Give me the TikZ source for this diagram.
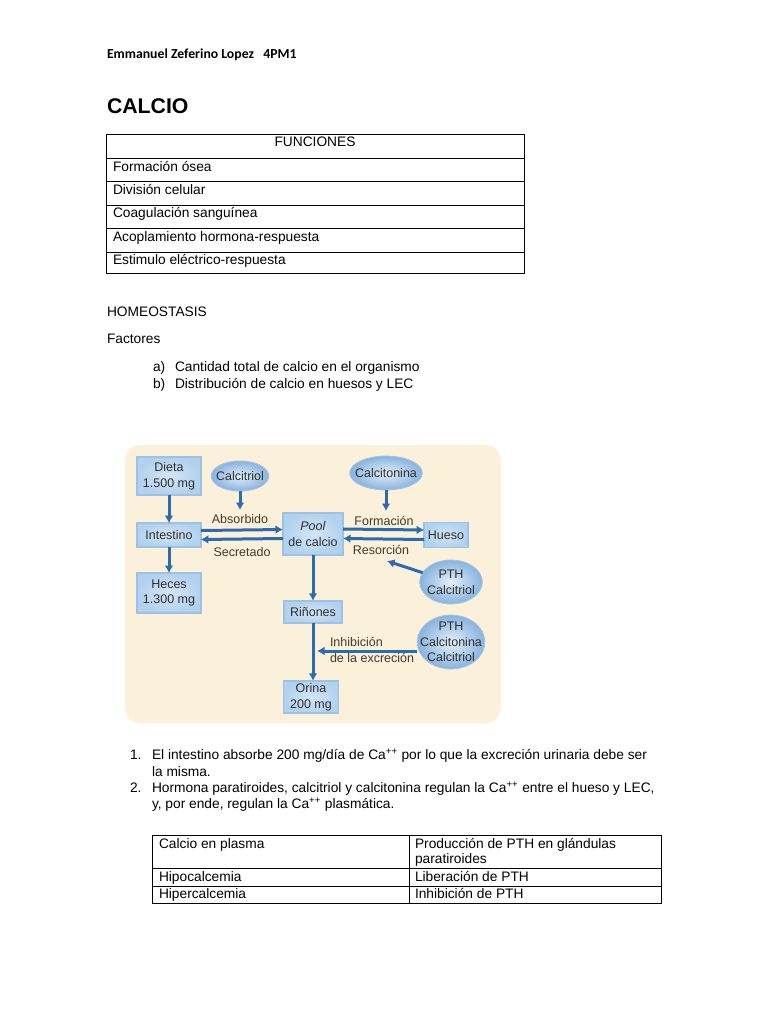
\documentclass[tikz,border=0pt]{standalone}
\usepackage{fontspec}
\setmainfont{Liberation Sans}
\newfontfamily\headfont{Carlito}
\usepackage{xcolor}
\usepackage{tikz}
\usetikzlibrary{arrows.meta, positioning, shapes.geometric, calc}

\definecolor{cream}{HTML}{FBF1DA}
\definecolor{boxfill}{HTML}{B2D1EE}
\definecolor{boxcore}{HTML}{D3E5F6}
\definecolor{boxline}{HTML}{9CC2E6}
\definecolor{ovalcore}{HTML}{E4EFFA}
\definecolor{ovalrim}{HTML}{88B3DE}
\definecolor{flowblue}{HTML}{2C6AB1}
\definecolor{inktext}{HTML}{2F2F2F}
\definecolor{labeltext}{HTML}{45382C}

\begin{document}
\begin{tikzpicture}[
    x=0.8pt, y=-0.8pt,
    every node/.style={inner sep=0pt, outer sep=0pt},
    body/.style={font=\fontsize{11}{13}\selectfont, anchor=base west},
    tabline/.style={line width=0.7pt},
    box/.style={rectangle, draw=boxline, line width=1.4pt, inner color=boxcore, outer color=boxfill, align=center, text=inktext, font=\fontsize{10}{12.5}\selectfont},
    oval/.style={ellipse, draw=ovalrim!80!white, line width=0.8pt, inner color=ovalcore, outer color=ovalrim, label={[ovaltext]center:#1}},
    ovaltext/.style={align=center, text=inktext, font=\fontsize{10}{12.5}\selectfont},
    tag/.style={text=labeltext, font=\fontsize{10}{13.5}\selectfont},
    flow/.style={-{Latex[length=6pt, width=7pt]}, line width=2.4pt, draw=flowblue}
]
\fill[white] (0,0) rectangle (768,1024);
\useasboundingbox (0,0) rectangle (768,1024);

\node[anchor=base west, font=\headfont\bfseries\fontsize{11}{13}\selectfont] (autor) at (107,59) {Emmanuel Zeferino Lopez\ \ \ 4PM1};
\node[anchor=base west, font=\bfseries\fontsize{17}{20}\selectfont] (titulo) at (107,114) {CALCIO};

\draw[tabline] (106,134) rectangle (524,273);
\foreach \y in {158,181,205,228,252}
    \draw[tabline] (106,\y) -- (524,\y);
\node[body, anchor=base] (funciones) at (315,147) {FUNCIONES};
\node[body] (osea) at (113,171.5) {Formación ósea};
\node[body] (division) at (113,194.5) {División celular};
\node[body] (coagulacion) at (113,218) {Coagulación sanguínea};
\node[body] (acoplamiento) at (113,241.5) {Acoplamiento hormona-respuesta};
\node[body] (estimulo) at (113,265) {Estimulo eléctrico-respuesta};

\node[body] (homeostasis) at (107,316) {HOMEOSTASIS};
\node[body] (factores) at (107,343.3) {Factores};
\node[body] (ma) at (153,371.7) {a)};
\node[body] (fa) at (175,371.7) {Cantidad total de calcio en el organismo};
\node[body] (mb) at (153,388.3) {b)};
\node[body] (fb) at (175,388.3) {Distribución de calcio en huesos y LEC};

\fill[cream, rounded corners=12pt] (125,445) rectangle (501,723);

\node[box, minimum width=51pt, minimum height=30pt] (dieta) at (169,476) {Dieta\\1.500 mg};
\node[box, minimum width=51pt, minimum height=19pt] (intestino) at (169,535) {Intestino};
\node[box, minimum width=51pt, minimum height=32pt] (heces) at (169,593) {Heces\\1.300 mg};
\node[box, minimum width=48pt, minimum height=34pt] (pool) at (313,534) {\textit{Pool}\\de calcio};
\node[box, minimum width=35pt, minimum height=20pt] (hueso) at (446,535) {Hueso};
\node[box, minimum width=46pt, minimum height=18pt] (rinones) at (313,612) {Riñones};
\node[box, minimum width=44pt, minimum height=26pt] (orina) at (311,697) {Orina\\200 mg};

\node[oval={Calcitriol}, minimum width=46pt, minimum height=24pt] (calcitriol) at (240,476) {};
\node[oval={Calcitonina}, minimum width=58pt, minimum height=27pt] (calcitonina) at (386,473) {};
\node[oval={PTH\\Calcitriol}, minimum width=50pt, minimum height=35pt] (ptha) at (451,582) {};
\node[oval={PTH\\Calcitonina\\Calcitriol}, minimum width=54pt, minimum height=43pt] (pthb) at (451,642) {};

\coordinate (abstip) at (240,510);
\coordinate (fortip) at (386,511);
\coordinate (restip) at (387,561);
\coordinate (inhtip) at (317,651);

\node[tag] (absorbido) at (240,519) {Absorbido};
\node[tag] (secretado) at (242,552) {Secretado};
\node[tag] (formacion) at (384,521) {Formación};
\node[tag] (resorcion) at (381,550) {Resorción};
\node[tag, anchor=west, align=left] (inhibicion) at (330,650) {Inhibición\\de la excreción};

\draw[flow] (dieta) -- (intestino);
\draw[flow] (intestino) -- (heces);
\draw[flow] ($(intestino.east)+(0,-4.5)$) -- ($(pool.west)+(0,-4.5)$);
\draw[flow] ($(pool.west)+(0,4.5)$) -- ($(intestino.east)+(0,4.5)$);
\draw[flow] ($(pool.east)+(0,-5)$) -- ($(hueso.west)+(0,-5)$);
\draw[flow] ($(hueso.west)+(0,4.5)$) -- ($(pool.east)+(0,4.5)$);
\draw[flow] (calcitriol) -- (abstip);
\draw[flow] (calcitonina) -- (fortip);
\draw[flow] (ptha) -- (restip);
\draw[flow] (pool) -- (rinones);
\draw[flow] (rinones.south) -- (rinones.south |- orina.north);
\draw[flow] (pthb.west |- inhtip) -- (inhtip);

\node[body] (n1) at (130,759) {1.};
\node[body] (l1) at (152,759) {El intestino absorbe 200 mg/día de Ca\textsuperscript{++} por lo que la excreción urinaria debe ser};
\node[body] (l2) at (152,776) {la misma.};
\node[body] (n2) at (130,792) {2.};
\node[body] (l3) at (152,792) {Hormona paratiroides, calcitriol y calcitonina regulan la Ca\textsuperscript{++} entre el hueso y LEC,};
\node[body] (l4) at (152,808) {y, por ende, regulan la Ca\textsuperscript{++} plasmática.};

\draw[tabline] (152,835) rectangle (661,903);
\draw[tabline] (152,868) -- (661,868);
\draw[tabline] (152,886) -- (661,886);
\draw[tabline] (409,835) -- (409,903);
\node[body] (plasma) at (159,848.6) {Calcio en plasma};
\node[body] (prod) at (415,848.6) {Producción de PTH en glándulas};
\node[body] (paratiroides) at (415,863) {paratiroides};
\node[body] (hipo) at (159,881) {Hipocalcemia};
\node[body] (liberacion) at (415,881) {Liberación de PTH};
\node[body] (hiper) at (159,898.5) {Hipercalcemia};
\node[body] (inhibpth) at (415,898.5) {Inhibición de PTH};
\end{tikzpicture}
\end{document}
